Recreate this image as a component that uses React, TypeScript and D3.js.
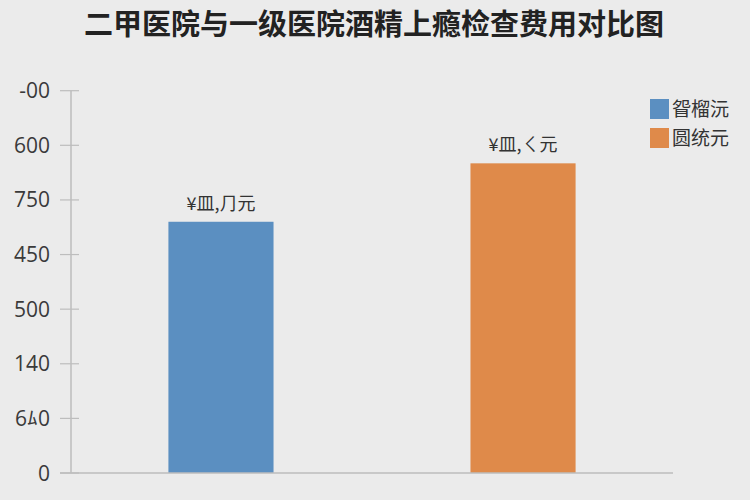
import React from "react";
import * as d3 from "d3";

const title = "二甲医院与一级医院酒精上瘾检查费用对比图";
const categories = ["二甲医院", "一级医院"];
const seriesNames = ["眢榴沅", "圆统元"];
const values = [460, 567];
const valueLabels = ["¥皿,⺆元", "¥皿,ㄑ元"];
const colors = ["#5b8fc1", "#df8a4a"];
const tickValues = [0, 100, 200, 300, 400, 500, 600, 700];
const tickLabels = ["0", "6ﾑ0", "140", "500", "450", "750", "600", "-00"];

const W = 750;
const H = 500;
const font = "'Noto Sans CJK SC', 'Noto Sans', sans-serif";

export default function App() {
  const x = d3
    .scaleBand<string>()
    .domain(categories)
    .range([71, 673])
    .paddingInner(0.652)
    .paddingOuter(0.3225);
  const y = d3.scaleLinear().domain([0, 700]).range([473, 90.7]);

  return (
    <svg
      width={W}
      height={H}
      style={{ position: "absolute", left: 0, top: 0, background: "#ebebeb" }}
    >
      <rect x={0} y={0} width={W} height={H} fill="#ebebeb" />
      <text
        x={374}
        y={35}
        textAnchor="middle"
        fontFamily={font}
        fontWeight={700}
        fontSize={29}
        fill="#222"
      >
        {title}
      </text>
      {/* y axis */}
      <line x1={71} x2={71} y1={y(700)} y2={y(0)} stroke="#bdbdbd" strokeWidth={1.5} />
      {tickValues.map((t, i) => (
        <g key={t}>
          <line x1={60} x2={79} y1={y(t)} y2={y(t)} stroke="#bdbdbd" strokeWidth={1.2} />
          <text
            x={50}
            y={y(t)}
            dy="0.36em"
            textAnchor="end"
            fontFamily="'Open Sans', 'Noto Sans', sans-serif"
            fontSize={21}
            fill="#3a3a3a"
          >
            {tickLabels[i]}
          </text>
        </g>
      ))}
      {/* bars */}
      {categories.map((c, i) => (
        <g key={c}>
          <rect
            x={x(c)}
            y={y(values[i])}
            width={x.bandwidth()}
            height={y(0) - y(values[i])}
            fill={colors[i]}
          />
          <text
            x={(x(c) as number) + x.bandwidth() / 2}
            y={y(values[i]) - 12}
            textAnchor="middle"
            fontFamily={font}
            fontSize={18}
            fill="#333"
          >
            {valueLabels[i]}
          </text>
        </g>
      ))}
      {/* x axis */}
      <line x1={60} x2={673} y1={y(0)} y2={y(0)} stroke="#bdbdbd" strokeWidth={1.5} />
      {/* legend */}
      {seriesNames.map((s, i) => (
        <g key={s} transform={`translate(650, ${99 + i * 29})`}>
          <rect x={0} y={0} width={19} height={20} fill={colors[i]} />
          <text
            x={22}
            y={10}
            dy="0.36em"
            fontFamily={font}
            fontSize={19}
            fill="#333"
          >
            {s}
          </text>
        </g>
      ))}
    </svg>
  );
}
